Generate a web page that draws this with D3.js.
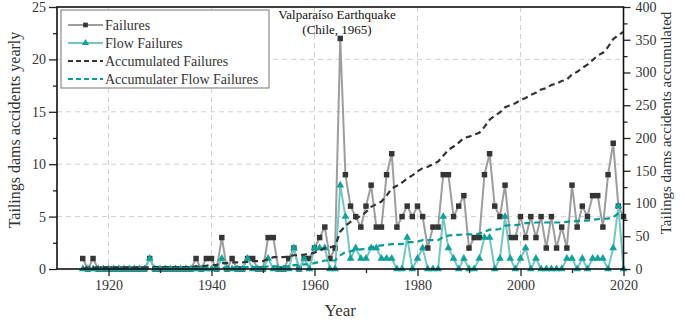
<!DOCTYPE html>
<html lang="en">
<head>
    <meta charset="UTF-8">
    <title>Tailings dams accidents</title>
    <script src="https://d3js.org/d3.v7.min.js"></script>
    <style>
        body{ margin:0; background:#fff; }
        svg{ font-family: "Liberation Serif", "Times New Roman", serif; }
        .tick text{ fill:#333; }
    </style>
</head>
<body>
<svg width="685" height="322"></svg>
<script>
    // ---- data (one value per year, 1915..2020) ----
    const years = d3.range(1915, 2021);
    const failures = [
        1,0,1,0,0,0,0,0,0,0,            // 1915-1924
        0,0,0,1,0,0,0,0,0,0,            // 1925-1934
        0,0,1,0,1,1,0,3,0,1,            // 1935-1944
        0,0,1,1,0,0,3,3,0,0,            // 1945-1954
        1,2,0,1,1,2,3,4,1,2,            // 1955-1964
        22,9,6,5,4,6,8,4,4,9,           // 1965-1974
        11,4,5,6,5,6,5,2,4,4,           // 1975-1984
        9,9,5,6,7,2,3,3,9,11,           // 1985-1994
        6,5,8,3,3,5,3,5,3,5,            // 1995-2004
        2,5,2,4,2,8,4,6,5,7,            // 2005-2014
        7,4,9,12,6,5                    // 2015-2020
    ];
    const flowFailures = [
        0,0,0,0,0,0,0,0,0,0,
        0,0,0,1,0,0,0,0,0,0,
        0,0,0,0,0,0,0,1,0,0,
        0,0,1,0,0,0,1,0,0,0,
        0,2,0,1,0,2,2,2,0,0,
        8,5,1,2,1,1,2,2,1,1,
        1,0,0,3,0,1,2,0,0,0,
        5,2,1,0,1,0,0,1,3,3,
        0,1,5,1,0,1,2,0,1,0,
        0,0,0,0,1,1,0,1,0,1,
        1,1,0,2,6,0
    ];
    const seriesNames = ["Failures", "Flow Failures", "Accumulated Failures", "Accumulater Flow Failures"];
    const xTicks = [1920, 1940, 1960, 1980, 2000, 2020];
    const yLeftTicks = [0, 5, 10, 15, 20, 25];
    const yRightTicks = [0, 50, 100, 150, 200, 250, 300, 350, 400];

    // accumulated series = running totals of the yearly counts
    const accFailures = Array.from(d3.cumsum(failures));
    const accFlow = Array.from(d3.cumsum(flowFailures));

    const svg = d3.select('svg');
    const pLeft = 57, pRight = 623.5, pTop = 7, pBottom = 269;

    const x = d3.scaleLinear().domain([1910, 2020]).range([pLeft, pRight]);
    const yL = d3.scaleLinear().domain([0, 25]).range([pBottom, pTop]);
    const yR = d3.scaleLinear().domain([0, 400]).range([pBottom, pTop]);

    //------------------------------------
    // grid
    svg.append('g').selectAll('line')
        .data(xTicks.slice(0, -1)).enter().append('line')
        .attr('x1', d => x(d)).attr('x2', d => x(d))
        .attr('y1', pTop).attr('y2', pBottom)
        .attr('stroke', '#cfcfcf').attr('stroke-dasharray', '5,4');
    svg.append('g').selectAll('line')
        .data(yLeftTicks.slice(1, -1)).enter().append('line')
        .attr('x1', pLeft).attr('x2', pRight)
        .attr('y1', d => yL(d)).attr('y2', d => yL(d))
        .attr('stroke', '#cfcfcf').attr('stroke-dasharray', '5,4');

    //------------------------------------
    // series
    const lineL = (vals) => d3.line().x((d, i) => x(years[i])).y(d => yL(d))(vals);
    const lineR = (vals) => d3.line().x((d, i) => x(years[i])).y(d => yR(d))(vals);

    svg.append('path').attr('d', lineL(failures))
        .attr('fill', 'none').attr('stroke', '#9d9d9d').attr('stroke-width', 2);
    svg.append('g').selectAll('path')
        .data(failures).enter().append('path')
        .attr('d', d3.symbol(d3.symbolSquare, 30))
        .attr('transform', (d, i) => `translate(${x(years[i])},${yL(d)})`)
        .attr('fill', '#353535');

    svg.append('path').attr('d', lineL(flowFailures))
        .attr('fill', 'none').attr('stroke', '#72c7c4').attr('stroke-width', 2);
    svg.append('g').selectAll('path')
        .data(flowFailures).enter().append('path')
        .attr('d', d3.symbol(d3.symbolTriangle, 26))
        .attr('transform', (d, i) => `translate(${x(years[i])},${yL(d)})`)
        .attr('fill', '#12a09c');

    svg.append('path').attr('d', lineR(accFailures))
        .attr('fill', 'none').attr('stroke', '#333').attr('stroke-width', 2.2)
        .attr('stroke-dasharray', '6,4');
    svg.append('path').attr('d', lineR(accFlow))
        .attr('fill', 'none').attr('stroke', '#079b98').attr('stroke-width', 2.2)
        .attr('stroke-dasharray', '6,4');

    //------------------------------------
    // axes
    svg.append('g').attr('transform', `translate(0,${pBottom})`)
        .call(d3.axisBottom(x).tickValues(xTicks).tickFormat(d3.format('d')).tickSize(7).tickPadding(4));
    svg.append('g').attr('transform', `translate(0,${pBottom})`)
        .call(d3.axisBottom(x).tickValues([1930, 1950, 1970, 1990, 2010]).tickFormat('').tickSize(4));
    svg.append('g').attr('transform', `translate(${pLeft},0)`)
        .call(d3.axisLeft(yL).tickValues(yLeftTicks).tickSize(8).tickPadding(3));
    svg.append('g').attr('transform', `translate(${pLeft},0)`)
        .call(d3.axisLeft(yL).tickValues([2.5, 7.5, 12.5, 17.5, 22.5]).tickFormat('').tickSize(4));
    svg.append('g').attr('transform', `translate(${pRight},0)`)
        .call(d3.axisRight(yR).tickValues(yRightTicks).tickSize(7).tickPadding(5));
    svg.append('g').attr('transform', `translate(${pRight},0)`)
        .call(d3.axisRight(yR).tickValues(d3.range(25, 400, 50)).tickFormat('').tickSize(4));
    svg.selectAll('.domain').remove();
    svg.selectAll('.tick line').attr('stroke', '#222').attr('stroke-width', 1.3);
    svg.selectAll('.tick text').style('font-size', '14px').style('font-family', '"Liberation Serif", serif');

    // frame
    svg.append('rect').attr('x', pLeft).attr('y', pTop)
        .attr('width', pRight - pLeft).attr('height', pBottom - pTop)
        .attr('fill', 'none').attr('stroke', '#111').attr('stroke-width', 1.6);

    // axis titles
    svg.append('text').attr('x', (pLeft + pRight) / 2).attr('y', 316)
        .attr('text-anchor', 'middle').style('font-size', '17px').attr('fill', '#333').text('Year');
    svg.append('text').attr('transform', 'translate(20,130) rotate(-90)')
        .attr('text-anchor', 'middle').style('font-size', '16px').attr('fill', '#333')
        .text('Tailings dams accidents yearly');
    svg.append('text').attr('transform', 'translate(671,123) rotate(-90)')
        .attr('text-anchor', 'middle').style('font-size', '15px').attr('fill', '#333')
        .text('Tailings dams accidents accumulated');

    // annotation
    svg.append('text').attr('x', 337).attr('y', 19).attr('text-anchor', 'middle')
        .style('font-size', '13px').attr('fill', '#111').text('Valparaíso Earthquake');
    svg.append('text').attr('x', 337).attr('y', 34).attr('text-anchor', 'middle')
        .style('font-size', '13px').attr('fill', '#111').text('(Chile, 1965)');

    //------------------------------------
    // legend
    const lg = svg.append('g');
    lg.append('rect').attr('x', 61).attr('y', 10).attr('width', 208).attr('height', 78)
        .attr('fill', '#fff').attr('stroke', '#8a8a8a').attr('stroke-width', 1.2);
    const legendStyle = [
        {stroke: '#9d9d9d', dash: null, mark: d3.symbolSquare, fill: '#353535'},
        {stroke: '#72c7c4', dash: null, mark: d3.symbolTriangle, fill: '#12a09c'},
        {stroke: '#333', dash: '5,3', mark: null},
        {stroke: '#079b98', dash: '5,3', mark: null}
    ];
    seriesNames.forEach((name, i) => {
        const yy = 25 + i * 18;
        const s = legendStyle[i];
        lg.append('line').attr('x1', 68).attr('x2', 103).attr('y1', yy).attr('y2', yy)
            .attr('stroke', s.stroke).attr('stroke-width', 2).attr('stroke-dasharray', s.dash);
        if (s.mark) lg.append('path').attr('d', d3.symbol(s.mark, 22))
            .attr('transform', `translate(85.5,${yy})`).attr('fill', s.fill);
        lg.append('text').attr('x', 105).attr('y', yy + 5).style('font-size', '14px')
            .attr('fill', '#333').text(name);
    });
</script>
</body>
</html>
